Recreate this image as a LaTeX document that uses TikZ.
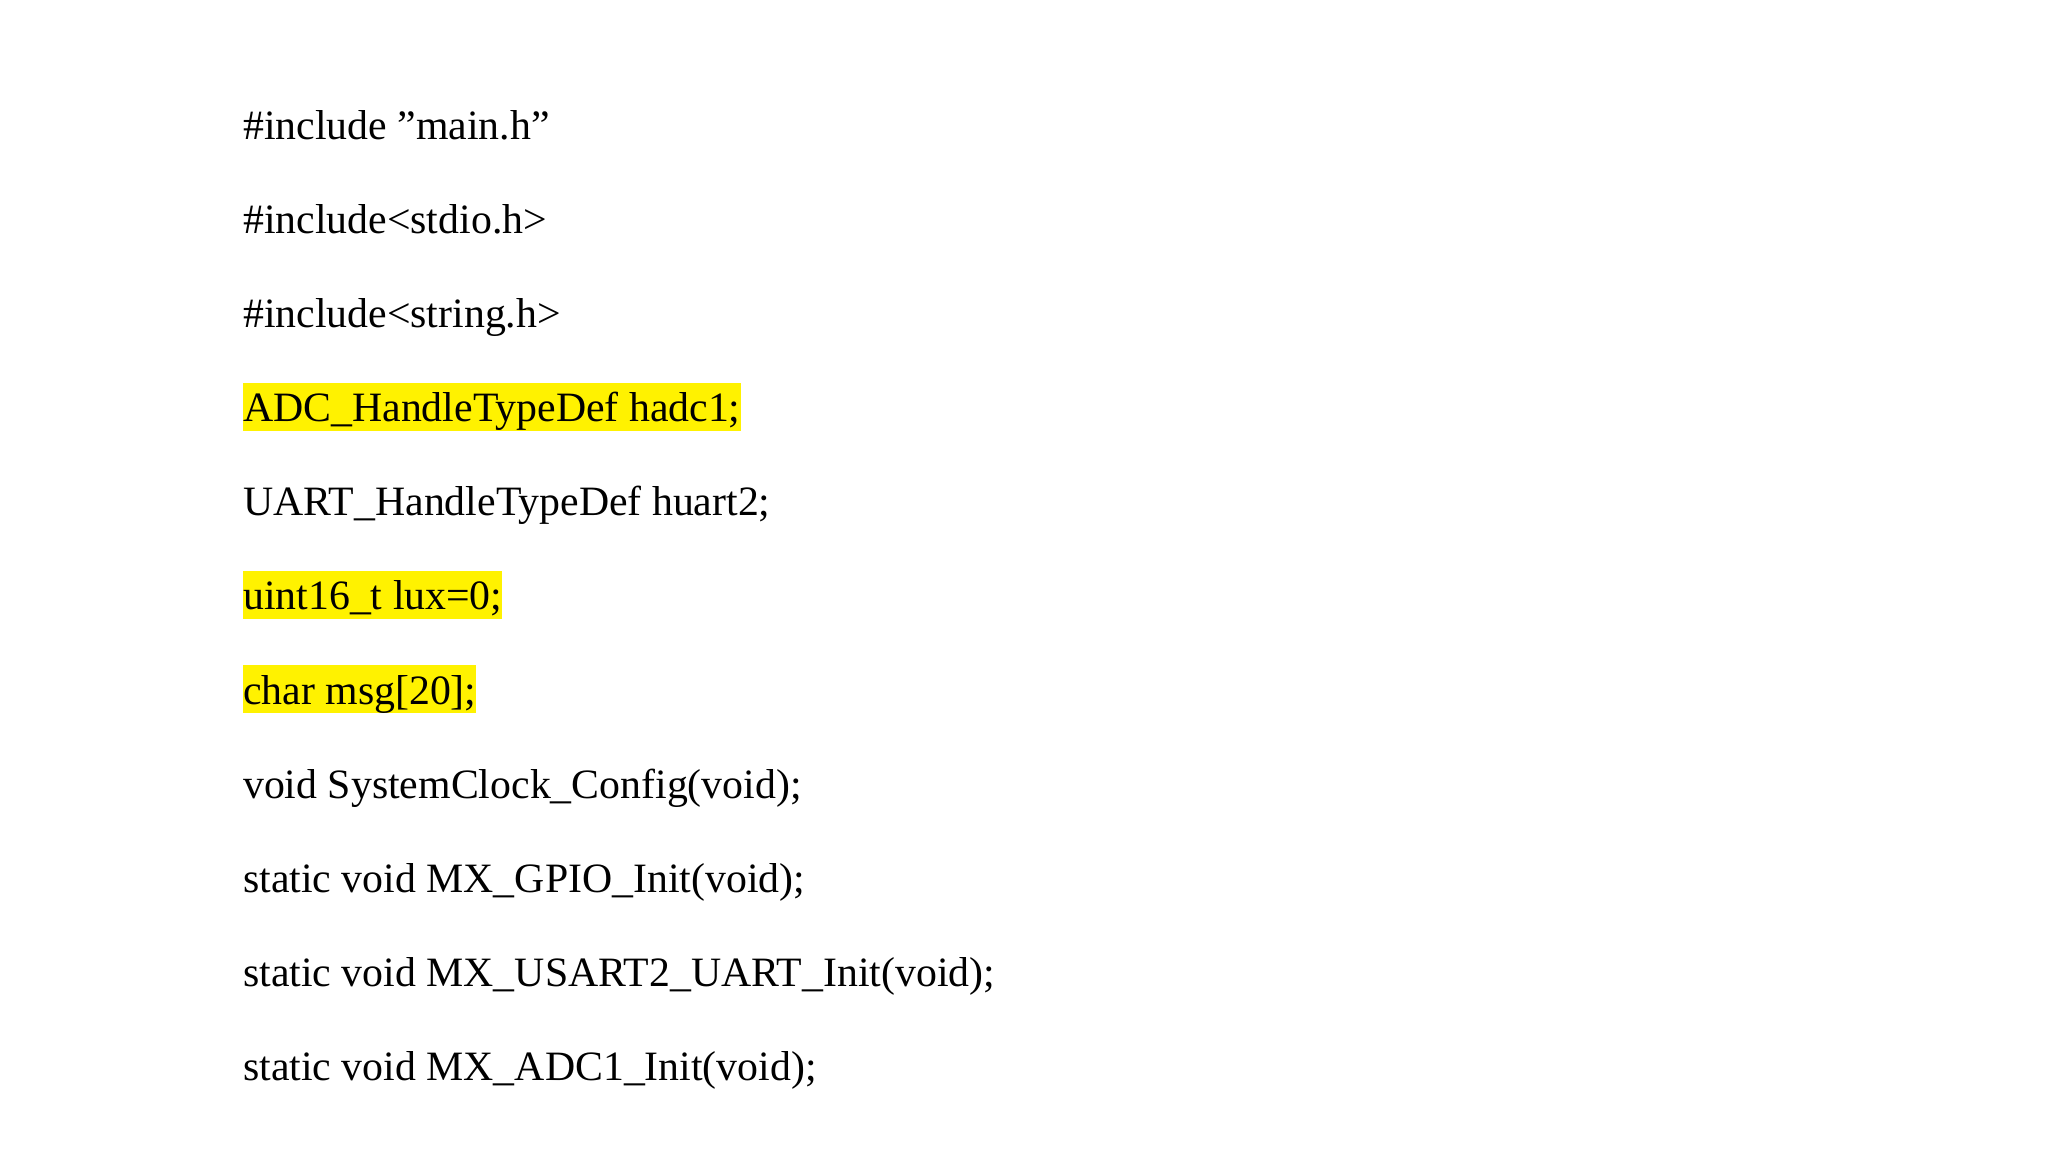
\documentclass[tikz,border=0pt]{standalone}
\usepackage{fontspec}
\setmainfont{Liberation Serif}
\begin{document}
\begin{tikzpicture}[x=1pt,y=-1pt,
  code/.style={anchor=base west,inner sep=0pt,font=\fontsize{32}{38}\selectfont,text height=30pt,text depth=7pt},
  hl/.style={code,fill=yellow}]
\useasboundingbox (0,0) rectangle (1568,882);
\node[code] (l1) at (186,107) {\#include "main.h"};
\node[code] (l2) at (186,179) {\#include<stdio.h>};
\node[code] (l3) at (186,251) {\#include<string.h>};
\node[hl] (l4) at (186,323) {ADC\_HandleTypeDef hadc1;};
\node[code] (l5) at (186,395) {UART\_HandleTypeDef huart2;};
\node[hl] (l6) at (186,467) {uint16\_t lux=0;};
\node[hl] (l7) at (186,539) {char msg[20];};
\node[code] (l8) at (186,611) {void SystemClock\_Config(void);};
\node[code] (l9) at (186,683) {static void MX\_GPIO\_Init(void);};
\node[code] (l10) at (186,755) {static void MX\_USART2\_UART\_Init(void);};
\node[code] (l11) at (186,827) {static void MX\_ADC1\_Init(void);};
\end{tikzpicture}
\end{document}
